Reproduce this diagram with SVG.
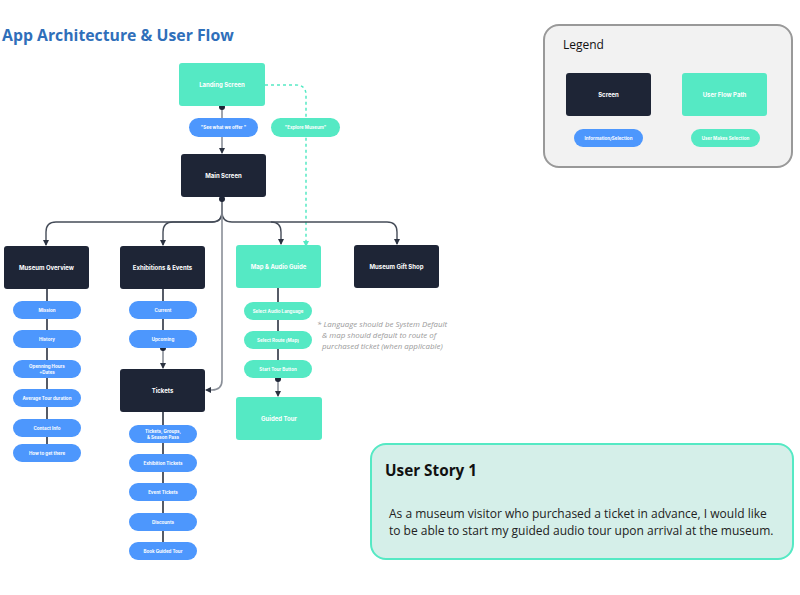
<svg xmlns="http://www.w3.org/2000/svg" width="800" height="595" viewBox="0 0 800 595">
<defs>
<marker id="arr" viewBox="0 0 6 6" refX="5" refY="3" markerWidth="6" markerHeight="6" markerUnits="userSpaceOnUse" orient="auto"><path d="M0,0 L6,3 L0,6 Z" fill="#2b3240"/></marker>
<marker id="arrT" viewBox="0 0 6 6" refX="5" refY="3" markerWidth="6" markerHeight="6" markerUnits="userSpaceOnUse" orient="auto"><path d="M0,0 L6,3 L0,6 Z" fill="#55e9c4"/></marker>
<style>
.scr{fill:#1e2536}
.flow{fill:#55e9c4}
.info{fill:#4d97fd}
.lbl{font-family:Inter,"Liberation Sans",sans-serif;font-weight:700;font-size:6px;fill:#ffffff;text-anchor:middle}
.pl{font-family:Inter,"Liberation Sans",sans-serif;font-weight:700;font-size:4.5px;fill:#ffffff;text-anchor:middle}
.spine{stroke:#2b3240;stroke-width:1.6;fill:none}
.grey{stroke:#8a8f98;stroke-width:1.6;fill:none}
.branch{stroke:#454c58;stroke-width:1.4;fill:none}
.dash{stroke:#55e9c4;stroke-width:1.5;fill:none;stroke-dasharray:3 3}
</style>
</defs>
<rect width="800" height="595" fill="#ffffff"/>
<text x="2" y="41" font-family="'Open Sans','Liberation Sans',sans-serif" font-weight="700" font-size="15.8" fill="#2f6fba">App Architecture &amp; User Flow</text>

<g id="connectors">
<path class="dash" d="M265,85 H296 Q306,85 306,95 V246" marker-end="url(#arrT)"/>
<line class="grey" x1="222" y1="107" x2="222" y2="153" marker-end="url(#arr)"/>
<circle cx="222" cy="107" r="3" fill="#1e2536"/>
<path class="branch" d="M222,199 V212 Q222,222 212,222 H56 Q46,222 46,232 V245" marker-end="url(#arr)"/>
<path class="branch" d="M222,212 Q222,222 212,222 H173 Q163,222 163,232 V245" marker-end="url(#arr)"/>
<path class="branch" d="M222,212 Q222,222 232,222 H271 Q281,222 281,232 V244" marker-end="url(#arr)"/>
<path class="branch" d="M271,222 H387 Q397,222 397,232 V244" marker-end="url(#arr)"/>
<path class="grey" d="M222,212 V380 Q222,390 212,390 H206" marker-end="url(#arr)"/>
<circle cx="222" cy="199" r="3" fill="#1e2536"/>
<line class="spine" x1="47" y1="289" x2="47" y2="450"/>
<line class="spine" x1="163" y1="289" x2="163" y2="340"/>
<line class="spine" x1="163" y1="412" x2="163" y2="548"/>
<line class="spine" x1="278" y1="288" x2="278" y2="372"/>
<line class="grey" x1="163" y1="348" x2="163" y2="368" marker-end="url(#arr)"/>
<circle cx="163" cy="348" r="3" fill="#1e2536"/>
<line class="grey" x1="278" y1="379" x2="278" y2="396" marker-end="url(#arr)"/>
<circle cx="278" cy="379" r="3" fill="#1e2536"/>
</g>

<g id="landing-screen"><rect class="flow" x="179" y="63" width="86" height="43" rx="3"/><text class="lbl" x="222" y="87">Landing Screen</text></g>
<g id="pill-see-what"><rect class="info" x="189" y="118" width="69" height="19" rx="9.5"/><text class="pl" x="223.5" y="129.2">"See what we offer "</text></g>
<g id="pill-explore"><rect class="flow" x="271" y="118" width="69" height="19" rx="9.5"/><text class="pl" x="305.5" y="129.2">"Explore Museum"</text></g>
<g id="main-screen"><rect class="scr" x="181" y="154" width="85" height="43" rx="3"/><text class="lbl" x="223.5" y="177.5">Main Screen</text></g>

<g id="museum-overview"><rect class="scr" x="4" y="246" width="85" height="43" rx="3"/><text class="lbl" x="46.5" y="269.5">Museum Overview</text></g>
<g id="exhibitions-events"><rect class="scr" x="120" y="246" width="85" height="43" rx="3"/><text class="lbl" x="162.5" y="269.5">Exhibitions &amp; Events</text></g>
<g id="map-audio-guide"><rect class="flow" x="236" y="245" width="85" height="43" rx="3"/><text class="lbl" x="278.5" y="268.5">Map &amp; Audio Guide</text></g>
<g id="museum-gift-shop"><rect class="scr" x="354" y="245" width="85" height="43" rx="3"/><text class="lbl" x="396.5" y="268.5">Museum Gift Shop</text></g>

<g id="mission"><rect class="info" x="13" y="301" width="68" height="18" rx="9"/><text class="pl" x="47" y="311.6">Mission</text></g>
<g id="history"><rect class="info" x="13" y="330" width="68" height="18" rx="9"/><text class="pl" x="47" y="340.6">History</text></g>
<g id="opening-hours"><rect class="info" x="13" y="360" width="68" height="18" rx="9"/><text class="pl" x="47" y="368">Openning Hours</text><text class="pl" x="47" y="373.5">+Dates</text></g>
<g id="average-tour"><rect class="info" x="13" y="389" width="68" height="18" rx="9"/><text class="pl" x="47" y="399.6">Average Tour duration</text></g>
<g id="contact-info"><rect class="info" x="13" y="419" width="68" height="18" rx="9"/><text class="pl" x="47" y="429.6">Contact Info</text></g>
<g id="how-to-get-there"><rect class="info" x="13" y="444" width="68" height="18" rx="9"/><text class="pl" x="47" y="454.6">How to get there</text></g>

<g id="current"><rect class="info" x="129" y="301" width="68" height="18" rx="9"/><text class="pl" x="163" y="311.6">Current</text></g>
<g id="upcoming"><rect class="info" x="129" y="330" width="68" height="18" rx="9"/><text class="pl" x="163" y="340.6">Upcoming</text></g>

<g id="tickets"><rect class="scr" x="120" y="369" width="85" height="43" rx="3"/><text class="lbl" x="162.5" y="392.5">Tickets</text></g>
<g id="tickets-groups"><rect class="info" x="129" y="425" width="68" height="18" rx="9"/><text class="pl" x="163" y="433">Tickets, Groups,</text><text class="pl" x="163" y="438.5">&amp; Season Pass</text></g>
<g id="exhibition-tickets"><rect class="info" x="129" y="454" width="68" height="18" rx="9"/><text class="pl" x="163" y="464.6">Exhibition Tickets</text></g>
<g id="event-tickets"><rect class="info" x="129" y="483" width="68" height="18" rx="9"/><text class="pl" x="163" y="493.6">Event Tickets</text></g>
<g id="discounts"><rect class="info" x="129" y="513" width="68" height="18" rx="9"/><text class="pl" x="163" y="523.6">Discounts</text></g>
<g id="book-guided-tour"><rect class="info" x="129" y="542" width="68" height="18" rx="9"/><text class="pl" x="163" y="552.6">Book Guided Tour</text></g>

<g id="select-audio-language"><rect class="flow" x="244" y="302" width="68" height="18" rx="9"/><text class="pl" x="278" y="312.6">Select Audio Language</text></g>
<g id="select-route"><rect class="flow" x="244" y="331" width="68" height="18" rx="9"/><text class="pl" x="278" y="341.6">Select Route (Map)</text></g>
<g id="start-tour"><rect class="flow" x="244" y="360" width="68" height="18" rx="9"/><text class="pl" x="278" y="370.6">Start Tour Button</text></g>
<g id="guided-tour"><rect class="flow" x="236" y="397" width="86" height="43" rx="3"/><text class="lbl" x="279" y="420.5">Guided Tour</text></g>

<g id="note" font-family="'Open Sans','Liberation Sans',sans-serif" font-style="italic" font-size="7.9" fill="#9a9a9a">
<text x="317" y="327">* Language should be System Default</text>
<text x="322" y="338">&amp; map should default to route of</text>
<text x="322" y="349">purchased ticket (when applicable)</text>
</g>

<g id="legend">
<rect x="544" y="25" width="248" height="142" rx="15" fill="#f2f2f2" stroke="#999999" stroke-width="2"/>
<text x="563" y="49" font-family="'Open Sans','Liberation Sans',sans-serif" font-size="12" fill="#111111">Legend</text>
<rect class="scr" x="566" y="73" width="85" height="43" rx="3"/><text class="lbl" x="608.5" y="96.5">Screen</text>
<rect class="flow" x="682" y="73" width="85" height="43" rx="3"/><text class="lbl" x="724.5" y="96.5">User Flow Path</text>
<rect class="info" x="574" y="129" width="69" height="18" rx="9"/><text class="pl" x="608.5" y="139.6">Information/Selection</text>
<rect class="flow" x="691" y="129" width="69" height="18" rx="9"/><text class="pl" x="725.5" y="139.6">User Makes Selection</text>
</g>

<g id="user-story">
<rect x="371" y="444" width="422" height="115" rx="15" fill="#d5efe9" stroke="#55e9c4" stroke-width="2"/>
<text x="385" y="476" font-family="'Open Sans','Liberation Sans',sans-serif" font-weight="700" font-size="15.3" fill="#111111">User Story 1</text>
<text font-family="'Open Sans','Liberation Sans',sans-serif" font-size="12" fill="#222222"><tspan x="389" y="518">As a museum visitor who purchased a ticket in advance, I would like</tspan><tspan x="389" y="535">to be able to start my guided audio tour upon arrival at the museum.</tspan></text>
</g>
</svg>
